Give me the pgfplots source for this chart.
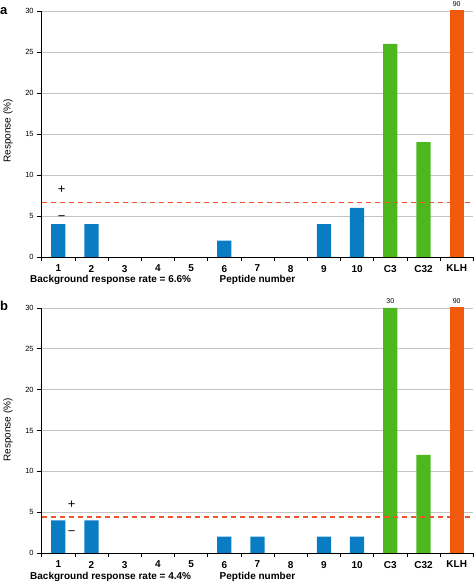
\documentclass[border=0pt]{standalone}
\usepackage{pgfplots}
\pgfplotsset{compat=1.18}
\usepackage{fontspec}
\setmainfont{Liberation Sans}
\definecolor{barblue}{RGB}{10,124,196}
\definecolor{bargreen}{RGB}{76,184,30}
\definecolor{barorange}{RGB}{240,90,10}
\definecolor{dashcol}{RGB}{240,85,45}
\definecolor{gridgray}{RGB}{195,195,195}
\pgfplotsset{
  panel/.style={
    scale only axis, width=431.6pt, height=246pt,
    xmin=-0.5, xmax=12.5, ymin=0, ymax=30,
    axis lines=left, axis line style={-, black, line width=0.9pt},
    x tick label as interval,
    xtick={-0.5,0.5,...,12.5},
    xticklabels={1,2,3,4,5,6,7,8,9,10,C3,C32,KLH},
    ytick={0,5,...,30},
    tick align=outside,
    major tick length=4.5pt,
    tick style={black, line width=0.8pt},
    ymajorgrids, grid style={gridgray, line width=0.9pt},
    xticklabel style={font=\bfseries\fontsize{10}{12}\selectfont},
    yticklabel style={font=\fontsize{7.5}{9}\selectfont},
    /pgf/number format/assume math mode=true,
    clip mode=individual,
  },
  bars/.style={ybar, bar width=0.43, bar shift=0pt, draw=none},
  thr/.style={draw=dashcol, line width=1.2pt, dash pattern=on 5.5pt off 3.5pt},
}
\begin{document}
\begin{tikzpicture}[x=1pt,y=1pt]
\useasboundingbox (0,0) rectangle (474,583);
% ---------- panel a ----------
\begin{axis}[panel, at={(41.7pt,326pt)}, anchor=south west]
\addplot[bars, fill=barblue] coordinates {(0,4) (1,4) (5,2) (8,4) (9,6)};
\addplot[bars, fill=bargreen] coordinates {(10,26) (11,14)};
\addplot[bars, fill=barorange] coordinates {(12,90)};
\addplot[thr] coordinates {(-0.5,6.6) (12.5,6.6)};
\node[font=\fontsize{13}{15}\selectfont] at (axis cs:0.1,8.2) {+};
\node[font=\fontsize{13}{15}\selectfont] at (axis cs:0.1,4.8) {\symbol{"2212}};
\node[font=\fontsize{7}{8}\selectfont, anchor=south, inner sep=1pt] at (axis cs:12,30.4) {90};
\end{axis}
% ---------- panel b ----------
\begin{axis}[panel, at={(41.7pt,30pt)}, anchor=south west, height=245pt]
\addplot[bars, fill=barblue] coordinates {(0,4) (1,4) (5,2) (6,2) (8,2) (9,2)};
\addplot[bars, fill=bargreen] coordinates {(10,30) (11,12)};
\addplot[bars, fill=barorange] coordinates {(12,90)};
\addplot[thr] coordinates {(-0.5,4.4) (12.5,4.4)};
\node[font=\fontsize{13}{15}\selectfont] at (axis cs:0.4,5.9) {+};
\node[font=\fontsize{13}{15}\selectfont] at (axis cs:0.4,2.4) {\symbol{"2212}};
\node[font=\fontsize{7}{8}\selectfont, anchor=south, inner sep=1pt] at (axis cs:10,30.4) {30};
\node[font=\fontsize{7}{8}\selectfont, anchor=south, inner sep=1pt] at (axis cs:12,30.4) {90};
\end{axis}
% ---------- texts ----------
\node[font=\bfseries\fontsize{13}{15}\selectfont, anchor=west, inner sep=0pt] at (0,572) {a};
\node[font=\bfseries\fontsize{13}{15}\selectfont, anchor=west, inner sep=0pt] at (0,277) {b};
\node[rotate=90, font=\fontsize{10}{12}\selectfont] at (8,452) {Response (\%)};
\node[rotate=90, font=\fontsize{10}{12}\selectfont] at (8,153) {Response (\%)};
\node[font=\bfseries\fontsize{10}{12}\selectfont, anchor=west, inner sep=0pt] at (30,303) {Background response rate = 6.6\%};
\node[font=\bfseries\fontsize{10}{12}\selectfont, inner sep=0pt] at (257.5,303) {Peptide number};
\node[font=\bfseries\fontsize{10}{12}\selectfont, anchor=west, inner sep=0pt] at (30,6) {Background response rate = 4.4\%};
\node[font=\bfseries\fontsize{10}{12}\selectfont, inner sep=0pt] at (257.5,6) {Peptide number};
\end{tikzpicture}
\end{document}
